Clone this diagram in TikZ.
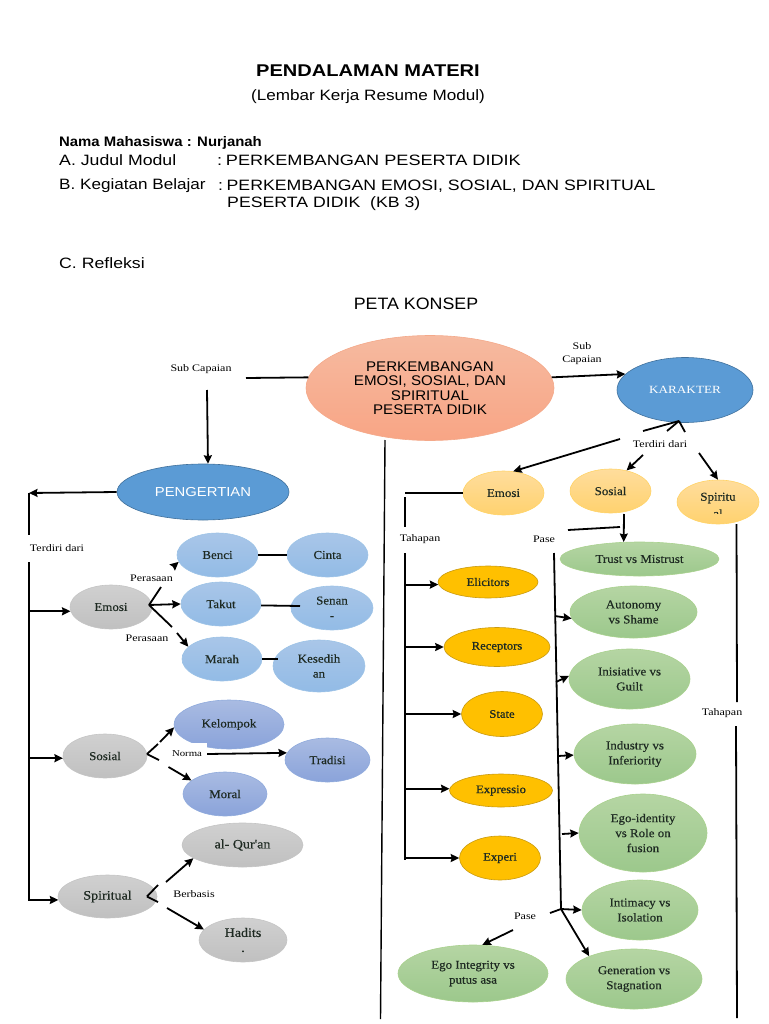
\documentclass[tikz,border=0pt]{standalone}
\usepackage{fontspec}
\setmainfont{Liberation Serif}
\newfontfamily\hwide[FakeStretch=1.18]{Liberation Sans}
\newfontfamily\hwider[FakeStretch=1.21]{Liberation Sans}
\newfontfamily\hsub[FakeStretch=1.14]{Liberation Sans}
\newfontfamily\hmid[FakeStretch=1.08]{Liberation Sans}
\newfontfamily\cbody[FakeStretch=1.08,FakeBold=0.4]{Liberation Serif}
\newfontfamily\cgoldf[FakeStretch=1.1,FakeBold=0.9]{Liberation Serif}
\newfontfamily\clab[FakeStretch=1.2]{Liberation Serif}
\usetikzlibrary{shapes.geometric,arrows.meta}
\definecolor{inkc}{HTML}{1E2A22}
\definecolor{mainT}{HTML}{F6BAA0}\definecolor{mainB}{HTML}{F8A585}\definecolor{mainD}{HTML}{F4A98A}
\definecolor{deepF}{HTML}{5B9BD5}\definecolor{deepD}{HTML}{41719C}
\definecolor{liteT}{HTML}{A9C6E8}\definecolor{liteB}{HTML}{92BBE6}\definecolor{liteD}{HTML}{9DC3E6}
\definecolor{purpT}{HTML}{A9BBE2}\definecolor{purpB}{HTML}{8AA3DA}\definecolor{purpD}{HTML}{8FAADC}
\definecolor{grayT}{HTML}{D0D0D0}\definecolor{grayB}{HTML}{C0C0C0}\definecolor{grayD}{HTML}{C4C4C4}
\definecolor{paleT}{HTML}{FFDD9C}\definecolor{paleB}{HTML}{FFD26F}\definecolor{paleD}{HTML}{FFD366}
\definecolor{goldF}{HTML}{FFC000}\definecolor{goldD}{HTML}{C99A10}
\definecolor{greenT}{HTML}{B5D5A3}\definecolor{greenB}{HTML}{9CC88C}\definecolor{greenD}{HTML}{A9D18E}
\tikzset{
  ell/.style={ellipse,inner sep=0pt,align=center,text=inkc,font=\cbody\fontsize{12}{15}\selectfont},
  cmain/.style={ell,top color=mainT,bottom color=mainB,draw=mainD,line width=.6pt,text=black},
  cdeep/.style={ell,fill=deepF,draw=deepD,line width=.6pt,text=white},
  clite/.style={ell,top color=liteT,bottom color=liteB,draw=liteD,line width=.6pt},
  cpurp/.style={ell,top color=purpT,bottom color=purpB,draw=purpD,line width=.6pt},
  cgray/.style={ell,top color=grayT,bottom color=grayB,draw=grayD,line width=.6pt},
  cpale/.style={ell,top color=paleT,bottom color=paleB,draw=paleD,line width=.6pt},
  cgold/.style={ell,fill=goldF,draw=goldD,line width=.6pt,font=\cgoldf\fontsize{11.5}{14}\selectfont},
  cgreen/.style={ell,top color=greenT,bottom color=greenB,draw=greenD,line width=.6pt},
  lab/.style={inner sep=0pt,text=black,font=\clab\fontsize{10}{12.5}\selectfont,align=center},
  hd/.style={inner sep=0pt,anchor=west,text=black,font=\hwide\fontsize{15}{18}\selectfont},
  ln/.style={line width=1.8pt,black},
  ar/.style={ln,-{Stealth[length=8.5pt,width=8pt,inset=1pt]}}
}
\begin{document}
\begin{tikzpicture}[x=1pt,y=-1pt]
\useasboundingbox (0,0) rectangle (768,1024);
% header
\node[inner sep=0pt,font=\hwide\fontsize{17}{20}\selectfont\bfseries] (title) at (368,71) {PENDALAMAN MATERI};
\node[inner sep=0pt,font=\hsub\fontsize{15}{18}\selectfont] (subtitle) at (368,96.5) {(Lembar Kerja Resume Modul)};
\node[hd,font=\hmid\fontsize{13.8}{17}\selectfont\bfseries] (nama) at (59,143) {Nama Mahasiswa : Nurjanah};
\node[hd] (ha1) at (59,160) {A. Judul Modul};
\node[hd,font=\hwider\fontsize{15}{18}\selectfont] (ha2) at (217,160) {:\hspace{-3pt} PERKEMBANGAN PESERTA DIDIK};
\node[hd,font=\hsub\fontsize{15}{18}\selectfont] (hb1) at (59,186) {B. Kegiatan Belajar};
\node[hd] (hb2) at (218,186) {:\hspace{-3pt} PERKEMBANGAN EMOSI, SOSIAL, DAN SPIRITUAL};
\node[hd] (hb3) at (227,204) {PESERTA DIDIK\ \ (KB 3)};
\node[hd] (hc1) at (59,263) {C. Refleksi};
\node[inner sep=0pt,font=\hmid\fontsize{16.5}{20}\selectfont] (peta) at (416,304) {PETA KONSEP};
% top
\node[cmain,minimum width=248,minimum height=105,font=\hmid\fontsize{14}{14.4}\selectfont] (main) at (430,388) {PERKEMBANGAN\\EMOSI, SOSIAL, DAN\\SPIRITUAL\\PESERTA DIDIK};
\node[cdeep,minimum width=136,minimum height=65,font=\clab\fontsize{11}{13}\selectfont] (kar) at (685,390) {KARAKTER};
\node[cdeep,minimum width=172,minimum height=56,font=\hsub\fontsize{13}{15}\selectfont] (peng) at (203,492) {PENGERTIAN};
% left
\node[clite,minimum width=81,minimum height=44] (benci) at (217.5,555) {Benci};
\node[clite,minimum width=81,minimum height=44] (cinta) at (327.5,555) {Cinta};
\node[clite,minimum width=80,minimum height=44] (takut) at (221,604) {Takut};
\node[clite,minimum width=82,minimum height=44] (senan) at (332,608) {Senan\\-};
\node[clite,minimum width=80,minimum height=44] (marah) at (222,659) {Marah};
\node[clite,minimum width=92,minimum height=52] (kese) at (319,666) {Kesedih\\an};
\node[cgray,minimum width=82,minimum height=44] (emosiL) at (111,607) {Emosi};
\node[cgray,minimum width=84,minimum height=44] (sosialL) at (105,756) {Sosial};
\node[cpurp,minimum width=110,minimum height=49] (kel) at (229,724.5) {Kelompok};
\node[cpurp,minimum width=85,minimum height=44] (tradisi) at (327.5,760) {Tradisi};
\node[cpurp,minimum width=84,minimum height=44] (moral) at (225,794) {Moral};
\node[cgray,minimum width=121,minimum height=44,font=\cbody\fontsize{13}{15}\selectfont] (quran) at (242.5,845) {al- Qur'an};
\node[cgray,minimum width=99,minimum height=43,font=\cbody\fontsize{13}{15}\selectfont] (spirL) at (107.5,896.5) {Spiritual};
\node[cgray,minimum width=88,minimum height=44,font=\cbody\fontsize{13}{15}\selectfont] (hadits) at (243,940) {Hadits\\.};
% right
\node[cpale,minimum width=81,minimum height=44] (emosiR) at (503.5,493) {Emosi};
\node[cpale,minimum width=81,minimum height=44] (sosialR) at (610.5,491) {Sosial};
\node[cpale,minimum width=82,minimum height=44] (spirR) at (718,502) {};
\node[inner sep=0pt,text=inkc,font=\cbody\fontsize{12}{15}\selectfont] (spirT) at (718,498) {Spiritu};
\begin{scope}
\clip (700,505) rectangle (740,513);
\node[inner sep=0pt,text=inkc,font=\cbody\fontsize{12}{15}\selectfont] (spirU) at (718,513.5) {al};
\end{scope}
\node[cgreen,minimum width=159,minimum height=34] (trust) at (639.5,559) {Trust vs Mistrust};
\node[cgreen,minimum width=127,minimum height=52] (auto) at (633.5,612) {Autonomy\\vs Shame};
\node[cgreen,minimum width=121,minimum height=60] (inis) at (629.5,679) {Inisiative vs\\Guilt};
\node[cgreen,minimum width=122,minimum height=60] (indu) at (635,754) {Industry vs\\Inferiority};
\node[cgreen,minimum width=128,minimum height=78] (egoid) at (643,833) {Ego-identity\\vs Role on\\fusion};
\node[cgreen,minimum width=116,minimum height=60] (inti) at (640,910) {Intimacy vs\\Isolation};
\node[cgreen,minimum width=136,minimum height=60] (gene) at (634,979) {Generation vs\\Stagnation};
\node[cgreen,minimum width=150,minimum height=57] (egoin) at (473,973.5) {Ego Integrity vs\\putus asa};
\node[cgold,minimum width=100,minimum height=32] (elic) at (488,582) {Elicitors};
\node[cgold,minimum width=106,minimum height=39] (rece) at (497,647) {Receptors};
\node[cgold,minimum width=81,minimum height=45] (state) at (502,714) {State};
\node[cgold,minimum width=103,minimum height=33] (expr) at (501,790.5) {Expressio};
\node[cgold,minimum width=81,minimum height=44] (expe) at (500,858) {Experi};
% labels
\node[lab] (lsub) at (201,369) {Sub Capaian};
\node[lab,font=\clab\fontsize{10}{13}\selectfont] (lsub2) at (582,354) {Sub\\Capaian};
\node[lab] (lter1) at (57,548) {Terdiri dari};
\node[lab] (lter2) at (660,444) {Terdiri dari};
\node[lab] (lper1) at (151.5,578) {Perasaan};
\node[lab] (lper2) at (147,638) {Perasaan};
\node[lab,fill=white,minimum width=40,minimum height=22,font=\clab\fontsize{9}{12}\selectfont] (lnorma) at (187,754) {Norma};
\node[lab] (lber) at (194,894) {Berbasis};
\node[lab] (ltah1) at (420,539) {Tahapan};
\node[lab] (lpase1) at (544,539) {Pase};
\node[lab] (lpase2) at (525,916) {Pase};
\node[lab] (ltah2) at (722,713) {Tahapan};
% free ends
\foreach \n/\px/\py in {
 s1/246/378, s2/207/390, t1/29/493, t2/29/535, t3/29/562, t4/29/901,
 mv1/385/440, mv2/380.5/1019,
 k1/643/431, k2/667/431, k3/685/432, ktip/679/421,
 e1/620/439, so1/643/455, sp1/699/453,
 r1/405/493, r2/405/497, r3/405/527, r4/405/553, r5/405/859.5,
 b1a/568/530, b1b/620/527, b1c/624/514,
 pv1/554/553, pv2/561/909, pa/550/913, pb/513/930,
 sr1/736.5/524, sr2/737/702, sr3/736/726, sr4/737/1018,
 e2/149/605, e3/161/587, e4/174.5/565.5, e5/172/627, e6/177/633,
 so2/147/754, so3/158/744, so4/160/742, so5/159/760, so6/168.5/767,
 sp2/147/896.5, sp3/158/885, sp4/166/882, sp5/158/902, sp6/167/908}
 {\coordinate (\n) at (\px,\py);}
% connectors
\draw[ln] (main.175) -- (s1);
\draw[ar] (s2) -- (peng.80);
\draw[ar] (peng.west) -- (t1);
\draw[ln] (t1) -- (t2);
\draw[ln] (t3) -- (t4);
\draw[ar] (t3 |- emosiL.186) -- (emosiL.186);
\draw[ar] (t3 |- sosialL.183) -- (sosialL.183);
\draw[ar] (t3 |- spirL.184) -- (spirL.184);
\draw[line width=1.4pt,black] (mv1) -- (mv2);
\draw[ar] (main.5) -- (kar.165);
\draw[ln] (k1) -- (ktip);
\draw[ln] (k2) -- (ktip);
\draw[ln] (k3) -- (ktip);
\draw[ar] (e1) -- (emosiR.66);
\draw[ar] (so1) -- (sosialR.52);
\draw[ar] (sp1) -- (spirR.north);
\draw[ln] (emosiR.west) -- (r1);
\draw[ln] (r2) -- (r3);
\draw[ln] (r4) -- (r5);
\draw[ar] (r4 |- elic.183) -- (elic.183);
\draw[ar] (r4 |- rece.west) -- (rece.west);
\draw[ar] (r4 |- state.west) -- (state.west);
\draw[ar] (r4 |- expr.178) -- (expr.178);
\draw[ar] (r4 |- expe.west) -- (expe.west);
\draw[ln] (b1a) -- (b1b);
\draw[ar] (b1c) -- (trust.133);
\draw[ln] (pv1) -- (pv2);
\draw[ar] (555,616) -- (auto.186);
\draw[ar] (556,682) -- (inis.177);
\draw[ar] (558,756) -- (indu.181);
\draw[ar] (562,834) -- (egoid.west);
\draw[ar] (pv2) -- (inti.west);
\draw[ar] (pv2) -- (gene.153);
\draw[ln] (pa) -- (pv2);
\draw[ar] (pb) -- (egoin.72);
\draw[ln] (sr1) -- (sr2);
\draw[ln] (sr3) -- (sr4);
\draw[ln] (e2) -- (e3);
\draw[ar] (e4) -- (benci.190);
\draw[ar] (e2) -- (takut.west);
\draw[ln] (e2) -- (e5);
\draw[ar] (e6) -- (marah.160);
\draw[ln] (benci.east) -- (cinta.west);
\draw[ln] (takut.358) -- (300,606);
\draw[ln] (marah.east) -- (278,659);
\draw[ln] (so2) -- (so3);
\draw[ar] (so4) -- (kel.183);
\draw[ln] (so2) -- (so5);
\draw[ar] (so6) -- (moral.158);
\draw[ar] (lnorma.east) -- (tradisi.170);
\draw[ln] (sp2) -- (sp3);
\draw[ar] (sp4) -- (quran.195);
\draw[ln] (sp2) -- (sp5);
\draw[ar] (sp6) -- (hadits.165);
\end{tikzpicture}
\end{document}
